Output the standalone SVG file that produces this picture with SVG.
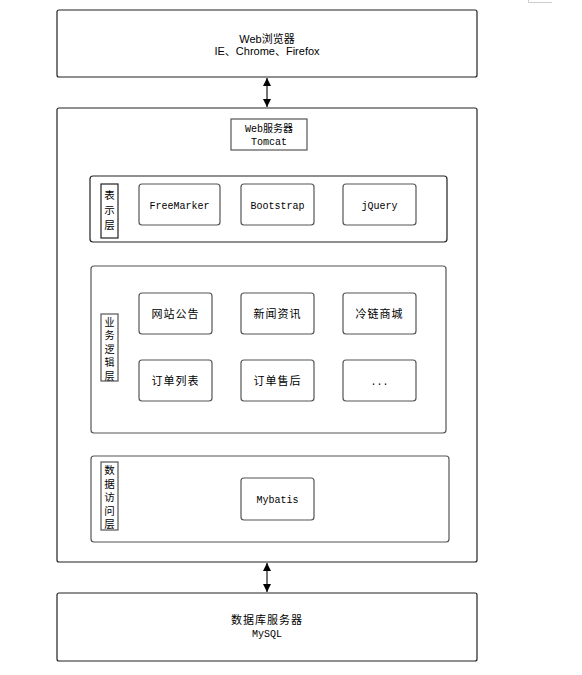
<svg xmlns="http://www.w3.org/2000/svg" width="582" height="675" viewBox="0 0 582 675">
<defs>
<marker id="ah" viewBox="0 0 10 10" refX="10" refY="5" markerWidth="8" markerHeight="8" markerUnits="userSpaceOnUse" orient="auto-start-reverse">
<path d="M0,0 L10,5 L0,10 z" fill="#000"/>
</marker>
<style>
.outer{fill:#fff;stroke:#222;stroke-width:1.2}
.inner{fill:#fff;stroke:#555;stroke-width:1.2}
.sans{font-family:"Liberation Sans","Noto Sans CJK SC",sans-serif;font-size:11px;fill:#000;text-anchor:middle}
.mono{font-family:"Liberation Mono","Noto Sans CJK SC",monospace;font-size:10px;fill:#000;text-anchor:middle}
.cjk{font-family:"Noto Sans CJK SC",sans-serif;font-size:11px;fill:#000;text-anchor:middle}
.vert{font-family:"Noto Sans CJK SC",sans-serif;font-size:10.5px;fill:#000;text-anchor:middle}
.vs{font-family:"Noto Sans CJK SC",sans-serif;font-size:10px;fill:#000;text-anchor:middle}
.conn{stroke:#444;stroke-width:1.5;fill:none}
</style>
</defs>
<rect width="582" height="675" fill="#fff"/>
<polyline points="528.5,0 528.5,2.5 552,2.5" fill="none" stroke="#ccc" stroke-width="1"/>

<g id="browser">
<rect class="outer" x="57" y="10" width="420" height="67" rx="2"/>
<text class="sans" x="267" y="43">Web浏览器</text>
<text class="sans" x="267" y="55">IE、Chrome、Firefox</text>
</g>

<g id="webserver">
<rect class="outer" x="57" y="108" width="420" height="454" rx="2"/>
</g>

<g id="tomcat">
<rect class="inner" x="231" y="119" width="76" height="31"/>
<text class="mono" x="269" y="132">Web服务器</text>
<text class="mono" x="269" y="145">Tomcat</text>
</g>

<g id="presentation">
<rect class="outer" x="90" y="176" width="357" height="66" rx="3"/>
<rect class="outer" x="101" y="184" width="17" height="54"/>
<text class="vert" x="109.5" y="199">表</text>
<text class="vert" x="109.5" y="214">示</text>
<text class="vert" x="109.5" y="229">层</text>
</g>
<g id="freemarker">
<rect class="inner" x="139" y="184" width="81" height="41" rx="3"/>
<text class="mono" x="179.5" y="209">FreeMarker</text>
</g>
<g id="bootstrap">
<rect class="inner" x="241" y="184" width="73" height="41" rx="3"/>
<text class="mono" x="277.5" y="209">Bootstrap</text>
</g>
<g id="jquery">
<rect class="inner" x="343" y="184" width="73" height="41" rx="3"/>
<text class="mono" x="379.5" y="209">jQuery</text>
</g>

<g id="business">
<rect class="inner" x="91" y="266" width="355" height="167" rx="3"/>
<rect class="inner" x="101" y="314" width="17" height="67"/>
<text class="vs" x="109.5" y="325.5">业</text>
<text class="vs" x="109.5" y="339">务</text>
<text class="vs" x="109.5" y="352.5">逻</text>
<text class="vs" x="109.5" y="366">辑</text>
<text class="vs" x="109.5" y="379.5">层</text>
</g>
<g id="notice">
<rect class="inner" x="139" y="293" width="73" height="41" rx="3"/>
<text class="cjk" x="175.5" y="318" letter-spacing="1">网站公告</text>
</g>
<g id="news">
<rect class="inner" x="241" y="293" width="73" height="41" rx="3"/>
<text class="cjk" x="277.5" y="318" letter-spacing="1">新闻资讯</text>
</g>
<g id="mall">
<rect class="inner" x="343" y="293" width="73" height="41" rx="3"/>
<text class="cjk" x="379.5" y="318" letter-spacing="1">冷链商城</text>
</g>
<g id="orders">
<rect class="inner" x="139" y="360" width="73" height="41" rx="3"/>
<text class="cjk" x="175.5" y="385" letter-spacing="1">订单列表</text>
</g>
<g id="aftersale">
<rect class="inner" x="241" y="360" width="73" height="41" rx="3"/>
<text class="cjk" x="277.5" y="385" letter-spacing="1">订单售后</text>
</g>
<g id="more">
<rect class="inner" x="343" y="360" width="73" height="41" rx="3"/>
<text class="mono" x="379.5" y="385">...</text>
</g>

<g id="dataaccess">
<rect class="inner" x="91" y="456" width="358" height="86" rx="3"/>
<rect class="inner" x="101" y="462" width="17" height="68"/>
<text class="vert" x="109.5" y="474">数</text>
<text class="vert" x="109.5" y="487.5">据</text>
<text class="vert" x="109.5" y="501">访</text>
<text class="vert" x="109.5" y="514.5">问</text>
<text class="vert" x="109.5" y="528">层</text>
</g>
<g id="mybatis">
<rect class="inner" x="241" y="478" width="73" height="42" rx="3"/>
<text class="mono" x="277.5" y="503">Mybatis</text>
</g>

<g id="database">
<rect class="outer" x="57" y="593" width="420" height="68" rx="2"/>
<text class="cjk" x="267" y="624" letter-spacing="1">数据库服务器</text>
<text class="mono" x="267" y="637">MySQL</text>
</g>

<g id="connectors">
<line class="conn" x1="267" y1="78" x2="267" y2="107" marker-start="url(#ah)" marker-end="url(#ah)"/>
<line class="conn" x1="267" y1="563" x2="267" y2="592" marker-start="url(#ah)" marker-end="url(#ah)"/>
</g>
</svg>
